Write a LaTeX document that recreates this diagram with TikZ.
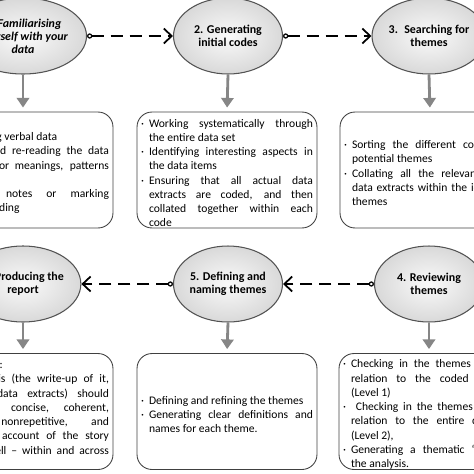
\documentclass[tikz,border=0pt]{standalone}
\usepackage{fontspec}
\setmainfont{Carlito}
\usetikzlibrary{arrows.meta,shapes.geometric}

\newcommand\bpoint{\par\hangindent=0.16cm\hangafter=1\noindent\makebox[0.16cm][l]{\textperiodcentered}}

\begin{document}
\begin{tikzpicture}[x=0.02cm,y=-0.02cm,
  phase/.style={ellipse,draw=gray!65!black,line width=0.6pt,inner sep=0pt,
    minimum width=2.18cm,minimum height=1.52cm,inner color=gray!4,outer color=gray!30,
    align=center,font=\fontsize{6.8}{7.4}\selectfont\bfseries},
  detail/.style={draw=black!75,line width=0.5pt,rounded corners=0.3cm,
    text width=3.44cm,inner xsep=0.08cm,inner ysep=0pt,minimum height=2.32cm,
    align=justify,font=\fontsize{6.6}{8.1}\selectfont},
  downarrow/.style={draw=gray!95,line width=1.6pt,-{Triangle[width=7pt,length=5.5pt]},shorten >=0.08cm},
  flowarrow/.style={line width=1pt,dash pattern=on 6.8pt off 4pt,
    {Circle[open,length=3pt,line width=0.7pt]}-{Straight Barb[length=4.5pt,width=8.5pt,line width=1pt]}}]
\useasboundingbox (0,0) rectangle (474,474);
\clip (0,0) rectangle (474,474);

% phases, top row
\node[phase,font=\fontsize{6.8}{7.4}\selectfont\bfseries\itshape] (fam) at (23,36) {1. Familiarising\\yourself with your\\data};
\node[phase] (gen) at (228,36) {2. Generating\\initial codes};
\node[phase] (sea) at (429,36) {3.~ Searching for\\themes};

% phases, bottom row
\node[phase] (rep) at (23,284) {6. Producing the\\report};
\node[phase] (def) at (228,284) {5. Defining and\\naming themes};
\node[phase] (rev) at (429,284) {4. Reviewing\\themes};

% details
\node[detail] (famtxt) at (23,170) {\bpoint Transcribing verbal data
  \bpoint Reading and re-reading the data\linebreak searching for meanings, patterns\linebreak and so on
  \bpoint Recording notes or marking\linebreak ideas for coding\par};
\node[detail] (gentxt) at (227,170) {\bpoint Working systematically through\linebreak the entire data set
  \bpoint Identifying interesting aspects in\linebreak the data items
  \bpoint Ensuring that all actual data\linebreak extracts are coded, and then\linebreak collated together within each\linebreak code\par};
\node[detail] (seatxt) at (430,170) {\bpoint Sorting the different codes into\linebreak potential themes
  \bpoint Collating all the relevant coded\linebreak data extracts within the identified\linebreak themes\par};
\node[detail] (reptxt) at (23,411.5) {\bpoint Final report:
  \bpoint The analysis (the write-up of it,\linebreak including data extracts) should\linebreak provide a concise, coherent,\linebreak logical, nonrepetitive, and\linebreak interesting account of the story\linebreak the data tell – within and across\linebreak themes.\par};
\node[detail] (deftxt) at (227,411.5) {\bpoint Defining and refining the themes
  \bpoint Generating clear definitions and\linebreak names for each theme.\par};
\node[detail] (revtxt) at (429,411.5) {\bpoint Checking in the themes work in\linebreak relation to the coded extracts\linebreak (Level 1)
  \bpoint\ Checking in the themes work in\linebreak relation to the entire data set\linebreak (Level 2),
  \bpoint Generating a thematic ‘map’ of\linebreak the analysis.\par};

% arrows
\draw[flowarrow] (fam.east) -- (gen.west);
\draw[flowarrow] (gen.east) -- (sea.west);
\draw[flowarrow] (rev.west) -- (def.east);
\draw[flowarrow] (def.west) -- (rep.east);

\draw[downarrow] (fam.south) -- (famtxt.north);
\draw[downarrow] (gen.south) -- (gentxt.north);
\draw[downarrow] (sea.south) -- (seatxt.north);
\draw[downarrow] (rep.south) -- (reptxt.north);
\draw[downarrow] (def.south) -- (deftxt.north);
\draw[downarrow] (rev.south) -- (revtxt.north);
\end{tikzpicture}
\end{document}
